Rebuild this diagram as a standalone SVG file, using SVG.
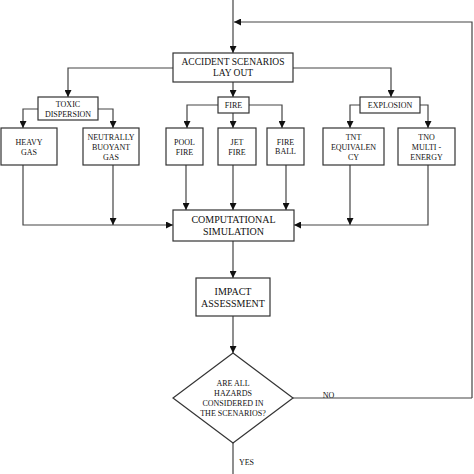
<svg xmlns="http://www.w3.org/2000/svg" width="474" height="474" viewBox="0 0 474 474">
<style>
rect,polygon{fill:#fff;stroke:#333;stroke-width:1.2}
.c path{fill:none;stroke:#444;stroke-width:1.2}
text{font-family:"Liberation Serif","Times New Roman",serif;fill:#111;text-anchor:middle}
.l{font-size:10px}.m{font-size:8px}.s{font-size:8px}
</style>
<defs>
<marker id="a" markerUnits="userSpaceOnUse" markerWidth="8" markerHeight="7" refX="7" refY="3.5" orient="auto">
<path d="M0,0 L7,3.5 L0,7 z" fill="#111"/>
</marker>
</defs>
<rect x="0" y="0" width="474" height="474" style="fill:#fff;stroke:none"/>
<g class="c">
<path d="M233,0 V53" marker-end="url(#a)"/>
<path d="M472,398 V22 H234" marker-end="url(#a)"/>
<path d="M173,68 H68 V97" marker-end="url(#a)"/>
<path d="M293,68 H391 V97" marker-end="url(#a)"/>
<path d="M233,82 V97" marker-end="url(#a)"/>
<path d="M38,109 H23 V128" marker-end="url(#a)"/>
<path d="M98,109 H113 V128" marker-end="url(#a)"/>
<path d="M218,105 H187 V128" marker-end="url(#a)"/>
<path d="M249,105 H282 V128" marker-end="url(#a)"/>
<path d="M233,113 V128" marker-end="url(#a)"/>
<path d="M360,105 H350 V128" marker-end="url(#a)"/>
<path d="M420,105 H428 V128" marker-end="url(#a)"/>
<path d="M23,165 V225 H173" marker-end="url(#a)"/>
<path d="M113,165 V225" marker-end="url(#a)"/>
<path d="M186,165 V210" marker-end="url(#a)"/>
<path d="M233,165 V210" marker-end="url(#a)"/>
<path d="M286,165 V210" marker-end="url(#a)"/>
<path d="M350,165 V225" marker-end="url(#a)"/>
<path d="M428,165 V225 H294" marker-end="url(#a)"/>
<path d="M233,241 V278" marker-end="url(#a)"/>
<path d="M233,316 V353" marker-end="url(#a)"/>
<path d="M293,398 H472"/>
<path d="M233,443 V474"/>
</g>
<g id="accident"><rect x="173" y="53" width="120" height="29"/><text class="l" x="233" y="65" style="font-size:9.5px">ACCIDENT SCENARIOS</text><text class="l" x="233" y="76" style="font-size:9.5px">LAY OUT</text></g>
<g id="toxic"><rect x="38" y="97" width="60" height="23"/><text class="s" x="68" y="107">TOXIC</text><text class="s" x="68" y="117">DISPERSION</text></g>
<g id="fire"><rect x="218" y="97" width="31" height="16"/><text class="s" x="233.5" y="108">FIRE</text></g>
<g id="explosion"><rect x="360" y="97" width="60" height="16"/><text class="s" x="390" y="108">EXPLOSION</text></g>
<g id="heavy"><rect x="1" y="128" width="56" height="37"/><text class="m" x="29" y="145">HEAVY</text><text class="m" x="29" y="155">GAS</text></g>
<g id="neutral"><rect x="83" y="128" width="56" height="37"/><text class="m" x="111" y="140">NEUTRALLY</text><text class="m" x="111" y="150">BUOYANT</text><text class="m" x="111" y="160">GAS</text></g>
<g id="pool"><rect x="166" y="128" width="37" height="37"/><text class="m" x="184.5" y="145">POOL</text><text class="m" x="184.5" y="155">FIRE</text></g>
<g id="jet"><rect x="218" y="128" width="38" height="37"/><text class="m" x="237" y="145">JET</text><text class="m" x="237" y="155">FIRE</text></g>
<g id="fireball"><rect x="267" y="128" width="37" height="37"/><text class="m" x="285.5" y="145">FIRE</text><text class="m" x="285.5" y="154">BALL</text></g>
<g id="tnt"><rect x="323" y="128" width="61" height="37"/><text class="m" x="353.5" y="140">TNT</text><text class="m" x="353.5" y="150">EQUIVALEN</text><text class="m" x="353.5" y="160">CY</text></g>
<g id="tno"><rect x="398" y="128" width="57" height="37"/><text class="m" x="426.5" y="140">TNO</text><text class="m" x="426.5" y="150">MULTI -</text><text class="m" x="426.5" y="160">ENERGY</text></g>
<g id="computational"><rect x="173" y="210" width="121" height="31"/><text class="l" x="233.5" y="222.5">COMPUTATIONAL</text><text class="l" x="233.5" y="234.5">SIMULATION</text></g>
<g id="impact"><rect x="196" y="278" width="74" height="38"/><text class="l" x="233" y="294.5">IMPACT</text><text class="l" x="233" y="306.5">ASSESSMENT</text></g>
<g id="decision"><polygon points="233,353 293,398 233,443 173,398"/><text class="s" x="233" y="385.5">ARE ALL</text><text class="s" x="233" y="395.5">HAZARDS</text><text class="s" x="233" y="405.5">CONSIDERED IN</text><text class="s" x="233" y="415.5">THE SCENARIOS?</text></g>
<g id="labels"><text class="s" x="328.5" y="398">NO</text><text class="s" x="246.5" y="464.5">YES</text></g>
</svg>
